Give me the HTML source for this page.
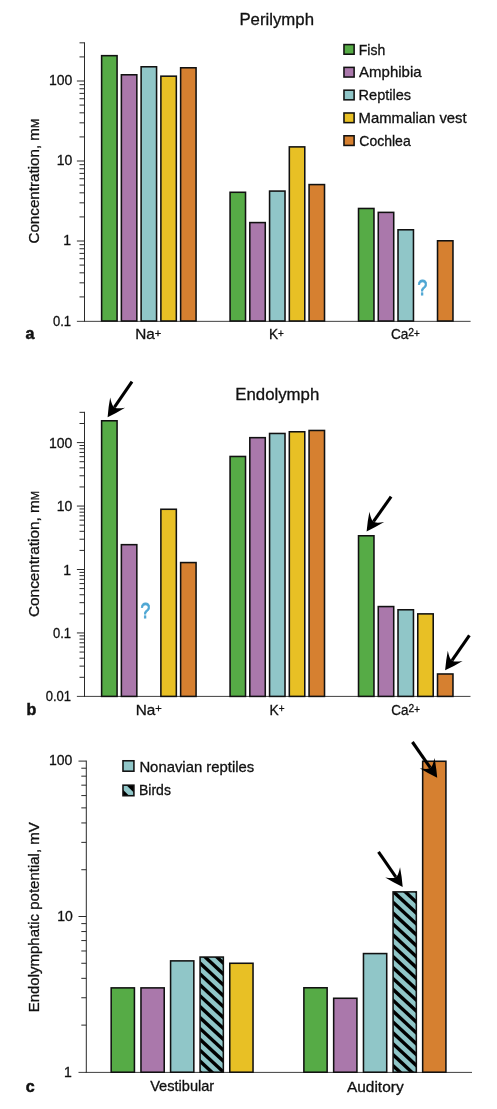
<!DOCTYPE html>
<html><head><meta charset="utf-8"><title>Perilymph and endolymph</title>
<style>
html,body{margin:0;padding:0;background:#fff;}
svg{display:block;font-family:"Liberation Sans",sans-serif;}
</style></head><body>
<svg width="497" height="1109" viewBox="0 0 497 1109">
<rect width="497" height="1109" fill="#fff"/>
<text id="ta" x="276.70" y="24.90" font-size="16.5" text-anchor="middle" font-weight="normal" fill="#111" stroke="#111" stroke-width="0.3" textLength="74.58" lengthAdjust="spacingAndGlyphs">Perilymph</text>
<line x1="84.50" y1="42.33" x2="84.50" y2="321.50" stroke="#2a2a2a" stroke-width="1.0"/>
<line x1="84.00" y1="321.35" x2="470.60" y2="321.35" stroke="#2a2a2a" stroke-width="0.9"/>
<line x1="76.90" y1="321.35" x2="84.50" y2="321.35" stroke="#2a2a2a" stroke-width="0.9"/>
<line x1="79.50" y1="296.92" x2="84.50" y2="296.92" stroke="#2a2a2a" stroke-width="1.0"/>
<line x1="79.50" y1="282.83" x2="84.50" y2="282.83" stroke="#2a2a2a" stroke-width="1.0"/>
<line x1="79.50" y1="272.84" x2="84.50" y2="272.84" stroke="#2a2a2a" stroke-width="1.0"/>
<line x1="79.50" y1="265.08" x2="84.50" y2="265.08" stroke="#2a2a2a" stroke-width="1.0"/>
<line x1="79.50" y1="258.75" x2="84.50" y2="258.75" stroke="#2a2a2a" stroke-width="1.0"/>
<line x1="79.50" y1="253.39" x2="84.50" y2="253.39" stroke="#2a2a2a" stroke-width="1.0"/>
<line x1="79.50" y1="248.75" x2="84.50" y2="248.75" stroke="#2a2a2a" stroke-width="1.0"/>
<line x1="79.50" y1="244.66" x2="84.50" y2="244.66" stroke="#2a2a2a" stroke-width="1.0"/>
<line x1="76.90" y1="241.00" x2="84.50" y2="241.00" stroke="#2a2a2a" stroke-width="1.0"/>
<line x1="79.50" y1="216.92" x2="84.50" y2="216.92" stroke="#2a2a2a" stroke-width="1.0"/>
<line x1="79.50" y1="202.83" x2="84.50" y2="202.83" stroke="#2a2a2a" stroke-width="1.0"/>
<line x1="79.50" y1="192.84" x2="84.50" y2="192.84" stroke="#2a2a2a" stroke-width="1.0"/>
<line x1="79.50" y1="185.08" x2="84.50" y2="185.08" stroke="#2a2a2a" stroke-width="1.0"/>
<line x1="79.50" y1="178.75" x2="84.50" y2="178.75" stroke="#2a2a2a" stroke-width="1.0"/>
<line x1="79.50" y1="173.39" x2="84.50" y2="173.39" stroke="#2a2a2a" stroke-width="1.0"/>
<line x1="79.50" y1="168.75" x2="84.50" y2="168.75" stroke="#2a2a2a" stroke-width="1.0"/>
<line x1="79.50" y1="164.66" x2="84.50" y2="164.66" stroke="#2a2a2a" stroke-width="1.0"/>
<line x1="76.90" y1="161.00" x2="84.50" y2="161.00" stroke="#2a2a2a" stroke-width="1.0"/>
<line x1="79.50" y1="136.92" x2="84.50" y2="136.92" stroke="#2a2a2a" stroke-width="1.0"/>
<line x1="79.50" y1="122.83" x2="84.50" y2="122.83" stroke="#2a2a2a" stroke-width="1.0"/>
<line x1="79.50" y1="112.84" x2="84.50" y2="112.84" stroke="#2a2a2a" stroke-width="1.0"/>
<line x1="79.50" y1="105.08" x2="84.50" y2="105.08" stroke="#2a2a2a" stroke-width="1.0"/>
<line x1="79.50" y1="98.75" x2="84.50" y2="98.75" stroke="#2a2a2a" stroke-width="1.0"/>
<line x1="79.50" y1="93.39" x2="84.50" y2="93.39" stroke="#2a2a2a" stroke-width="1.0"/>
<line x1="79.50" y1="88.75" x2="84.50" y2="88.75" stroke="#2a2a2a" stroke-width="1.0"/>
<line x1="79.50" y1="84.66" x2="84.50" y2="84.66" stroke="#2a2a2a" stroke-width="1.0"/>
<line x1="76.90" y1="81.00" x2="84.50" y2="81.00" stroke="#2a2a2a" stroke-width="1.0"/>
<line x1="79.50" y1="56.92" x2="84.50" y2="56.92" stroke="#2a2a2a" stroke-width="1.0"/>
<line x1="79.50" y1="42.83" x2="84.50" y2="42.83" stroke="#2a2a2a" stroke-width="1.0"/>
<text x="72.40" y="84.70" font-size="14" text-anchor="end" font-weight="normal" fill="#111" stroke="#111" stroke-width="0.3">100</text>
<text x="72.40" y="164.70" font-size="14" text-anchor="end" font-weight="normal" fill="#111" stroke="#111" stroke-width="0.3">10</text>
<text x="71.00" y="245.40" font-size="14" text-anchor="end" font-weight="normal" fill="#111" stroke="#111" stroke-width="0.3">1</text>
<text x="71.00" y="325.50" font-size="14" text-anchor="end" font-weight="normal" fill="#111" stroke="#111" stroke-width="0.3" textLength="18.10" lengthAdjust="spacingAndGlyphs">0.1</text>
<rect x="101.62" y="55.67" width="15.45" height="265.32" fill="#56ab46" stroke="#111" stroke-width="1.55"/>
<rect x="121.38" y="74.78" width="15.45" height="246.22" fill="#aa78ab" stroke="#111" stroke-width="1.55"/>
<rect x="141.12" y="66.78" width="15.45" height="254.22" fill="#90c6c8" stroke="#111" stroke-width="1.55"/>
<rect x="160.88" y="76.18" width="15.45" height="244.82" fill="#e8c025" stroke="#111" stroke-width="1.55"/>
<rect x="180.62" y="67.78" width="15.45" height="253.22" fill="#d68030" stroke="#111" stroke-width="1.55"/>
<rect x="230.07" y="192.28" width="15.45" height="128.72" fill="#56ab46" stroke="#111" stroke-width="1.55"/>
<rect x="249.82" y="222.58" width="15.45" height="98.42" fill="#aa78ab" stroke="#111" stroke-width="1.55"/>
<rect x="269.57" y="191.08" width="15.45" height="129.92" fill="#90c6c8" stroke="#111" stroke-width="1.55"/>
<rect x="289.32" y="146.88" width="15.45" height="174.12" fill="#e8c025" stroke="#111" stroke-width="1.55"/>
<rect x="309.07" y="184.58" width="15.45" height="136.42" fill="#d68030" stroke="#111" stroke-width="1.55"/>
<rect x="358.52" y="208.47" width="15.45" height="112.53" fill="#56ab46" stroke="#111" stroke-width="1.55"/>
<rect x="378.27" y="212.38" width="15.45" height="108.62" fill="#aa78ab" stroke="#111" stroke-width="1.55"/>
<rect x="398.02" y="229.78" width="15.45" height="91.22" fill="#90c6c8" stroke="#111" stroke-width="1.55"/>
<rect x="437.52" y="240.78" width="15.45" height="80.22" fill="#d68030" stroke="#111" stroke-width="1.55"/>
<text x="422.40" y="295.40" font-size="22.5" text-anchor="middle" font-weight="normal" fill="#4da6d3" stroke="#4da6d3" stroke-width="0.8" textLength="9.8" lengthAdjust="spacingAndGlyphs">?</text>
<rect x="343.97" y="44.57" width="10.15" height="9.65" fill="#56ab46" stroke="#111" stroke-width="1.55"/>
<text id="lg0" x="358.80" y="54.60" font-size="14.5" text-anchor="start" font-weight="normal" fill="#111" stroke="#111" stroke-width="0.3" textLength="26.45" lengthAdjust="spacingAndGlyphs">Fish</text>
<rect x="343.97" y="67.38" width="10.15" height="9.65" fill="#aa78ab" stroke="#111" stroke-width="1.55"/>
<text id="lg1" x="359.10" y="77.35" font-size="14.5" text-anchor="start" font-weight="normal" fill="#111" stroke="#111" stroke-width="0.3" textLength="62.45" lengthAdjust="spacingAndGlyphs">Amphibia</text>
<rect x="343.97" y="90.18" width="10.15" height="9.65" fill="#90c6c8" stroke="#111" stroke-width="1.55"/>
<text id="lg2" x="358.60" y="100.10" font-size="14.5" text-anchor="start" font-weight="normal" fill="#111" stroke="#111" stroke-width="0.3" textLength="52.43" lengthAdjust="spacingAndGlyphs">Reptiles</text>
<rect x="343.97" y="112.98" width="10.15" height="9.65" fill="#e8c025" stroke="#111" stroke-width="1.55"/>
<text id="lg3" x="358.60" y="122.85" font-size="14.5" text-anchor="start" font-weight="normal" fill="#111" stroke="#111" stroke-width="0.3" textLength="108.03" lengthAdjust="spacingAndGlyphs">Mammalian vest</text>
<rect x="343.97" y="135.78" width="10.15" height="9.65" fill="#d68030" stroke="#111" stroke-width="1.55"/>
<text id="lg4" x="359.30" y="145.60" font-size="14.5" text-anchor="start" font-weight="normal" fill="#111" stroke="#111" stroke-width="0.3" textLength="51.38" lengthAdjust="spacingAndGlyphs">Cochlea</text>
<text id="na_a" x="148.20" y="339.20" font-size="14.5" text-anchor="middle" font-weight="normal" fill="#111" stroke="#111" stroke-width="0.3" textLength="26.06" lengthAdjust="spacingAndGlyphs">Na<tspan font-size="10.5" dy="-2.6">+</tspan></text>
<text id="k_a" x="276.40" y="339.20" font-size="14.5" text-anchor="middle" font-weight="normal" fill="#111" stroke="#111" stroke-width="0.3" textLength="14.91" lengthAdjust="spacingAndGlyphs">K<tspan font-size="10.5" dy="-2.6">+</tspan></text>
<text id="ca_a" x="405.40" y="339.20" font-size="14.5" text-anchor="middle" font-weight="normal" fill="#111" stroke="#111" stroke-width="0.3" textLength="29.00" lengthAdjust="spacingAndGlyphs">Ca<tspan font-size="11" dy="-3.1">2</tspan><tspan font-size="10.5" dy="0.8">+</tspan></text>
<text x="25.60" y="339.20" font-size="16" text-anchor="start" font-weight="bold" fill="#111" stroke="#111" stroke-width="0.5">a</text>
<text id="yla" transform="translate(38.7,181.20) rotate(-90)" font-size="14.5" text-anchor="middle" fill="#111" stroke="#111" stroke-width="0.3" textLength="124.70" lengthAdjust="spacingAndGlyphs">Concentration, m<tspan font-size="10.5">M</tspan></text>
<text id="tb" x="277.30" y="399.90" font-size="16.5" text-anchor="middle" font-weight="normal" fill="#111" stroke="#111" stroke-width="0.3" textLength="83.99" lengthAdjust="spacingAndGlyphs">Endolymph</text>
<line x1="84.50" y1="411.83" x2="84.50" y2="696.90" stroke="#2a2a2a" stroke-width="1.0"/>
<line x1="84.00" y1="696.40" x2="470.50" y2="696.40" stroke="#2a2a2a" stroke-width="0.9"/>
<line x1="76.90" y1="696.40" x2="84.50" y2="696.40" stroke="#2a2a2a" stroke-width="0.9"/>
<line x1="79.50" y1="677.30" x2="84.50" y2="677.30" stroke="#2a2a2a" stroke-width="1.0"/>
<line x1="79.50" y1="666.13" x2="84.50" y2="666.13" stroke="#2a2a2a" stroke-width="1.0"/>
<line x1="79.50" y1="658.20" x2="84.50" y2="658.20" stroke="#2a2a2a" stroke-width="1.0"/>
<line x1="79.50" y1="652.05" x2="84.50" y2="652.05" stroke="#2a2a2a" stroke-width="1.0"/>
<line x1="79.50" y1="647.03" x2="84.50" y2="647.03" stroke="#2a2a2a" stroke-width="1.0"/>
<line x1="79.50" y1="642.78" x2="84.50" y2="642.78" stroke="#2a2a2a" stroke-width="1.0"/>
<line x1="79.50" y1="639.10" x2="84.50" y2="639.10" stroke="#2a2a2a" stroke-width="1.0"/>
<line x1="79.50" y1="635.85" x2="84.50" y2="635.85" stroke="#2a2a2a" stroke-width="1.0"/>
<line x1="76.90" y1="632.95" x2="84.50" y2="632.95" stroke="#2a2a2a" stroke-width="1.0"/>
<line x1="79.50" y1="613.85" x2="84.50" y2="613.85" stroke="#2a2a2a" stroke-width="1.0"/>
<line x1="79.50" y1="602.68" x2="84.50" y2="602.68" stroke="#2a2a2a" stroke-width="1.0"/>
<line x1="79.50" y1="594.75" x2="84.50" y2="594.75" stroke="#2a2a2a" stroke-width="1.0"/>
<line x1="79.50" y1="588.60" x2="84.50" y2="588.60" stroke="#2a2a2a" stroke-width="1.0"/>
<line x1="79.50" y1="583.58" x2="84.50" y2="583.58" stroke="#2a2a2a" stroke-width="1.0"/>
<line x1="79.50" y1="579.33" x2="84.50" y2="579.33" stroke="#2a2a2a" stroke-width="1.0"/>
<line x1="79.50" y1="575.65" x2="84.50" y2="575.65" stroke="#2a2a2a" stroke-width="1.0"/>
<line x1="79.50" y1="572.40" x2="84.50" y2="572.40" stroke="#2a2a2a" stroke-width="1.0"/>
<line x1="76.90" y1="569.50" x2="84.50" y2="569.50" stroke="#2a2a2a" stroke-width="1.0"/>
<line x1="79.50" y1="550.40" x2="84.50" y2="550.40" stroke="#2a2a2a" stroke-width="1.0"/>
<line x1="79.50" y1="539.23" x2="84.50" y2="539.23" stroke="#2a2a2a" stroke-width="1.0"/>
<line x1="79.50" y1="531.30" x2="84.50" y2="531.30" stroke="#2a2a2a" stroke-width="1.0"/>
<line x1="79.50" y1="525.15" x2="84.50" y2="525.15" stroke="#2a2a2a" stroke-width="1.0"/>
<line x1="79.50" y1="520.13" x2="84.50" y2="520.13" stroke="#2a2a2a" stroke-width="1.0"/>
<line x1="79.50" y1="515.88" x2="84.50" y2="515.88" stroke="#2a2a2a" stroke-width="1.0"/>
<line x1="79.50" y1="512.20" x2="84.50" y2="512.20" stroke="#2a2a2a" stroke-width="1.0"/>
<line x1="79.50" y1="508.95" x2="84.50" y2="508.95" stroke="#2a2a2a" stroke-width="1.0"/>
<line x1="76.90" y1="506.05" x2="84.50" y2="506.05" stroke="#2a2a2a" stroke-width="1.0"/>
<line x1="79.50" y1="486.95" x2="84.50" y2="486.95" stroke="#2a2a2a" stroke-width="1.0"/>
<line x1="79.50" y1="475.78" x2="84.50" y2="475.78" stroke="#2a2a2a" stroke-width="1.0"/>
<line x1="79.50" y1="467.85" x2="84.50" y2="467.85" stroke="#2a2a2a" stroke-width="1.0"/>
<line x1="79.50" y1="461.70" x2="84.50" y2="461.70" stroke="#2a2a2a" stroke-width="1.0"/>
<line x1="79.50" y1="456.68" x2="84.50" y2="456.68" stroke="#2a2a2a" stroke-width="1.0"/>
<line x1="79.50" y1="452.43" x2="84.50" y2="452.43" stroke="#2a2a2a" stroke-width="1.0"/>
<line x1="79.50" y1="448.75" x2="84.50" y2="448.75" stroke="#2a2a2a" stroke-width="1.0"/>
<line x1="79.50" y1="445.50" x2="84.50" y2="445.50" stroke="#2a2a2a" stroke-width="1.0"/>
<line x1="76.90" y1="442.60" x2="84.50" y2="442.60" stroke="#2a2a2a" stroke-width="1.0"/>
<line x1="79.50" y1="423.50" x2="84.50" y2="423.50" stroke="#2a2a2a" stroke-width="1.0"/>
<line x1="79.50" y1="412.33" x2="84.50" y2="412.33" stroke="#2a2a2a" stroke-width="1.0"/>
<text x="72.40" y="447.60" font-size="14" text-anchor="end" font-weight="normal" fill="#111" stroke="#111" stroke-width="0.3">100</text>
<text x="72.40" y="511.05" font-size="14" text-anchor="end" font-weight="normal" fill="#111" stroke="#111" stroke-width="0.3">10</text>
<text x="71.00" y="574.50" font-size="14" text-anchor="end" font-weight="normal" fill="#111" stroke="#111" stroke-width="0.3">1</text>
<text x="71.00" y="637.95" font-size="14" text-anchor="end" font-weight="normal" fill="#111" stroke="#111" stroke-width="0.3" textLength="18.10" lengthAdjust="spacingAndGlyphs">0.1</text>
<text x="71.00" y="701.40" font-size="14" text-anchor="end" font-weight="normal" fill="#111" stroke="#111" stroke-width="0.3" textLength="25.34" lengthAdjust="spacingAndGlyphs">0.01</text>
<rect x="101.62" y="420.77" width="15.45" height="275.62" fill="#56ab46" stroke="#111" stroke-width="1.55"/>
<rect x="121.38" y="544.67" width="15.45" height="151.73" fill="#aa78ab" stroke="#111" stroke-width="1.55"/>
<rect x="160.88" y="509.27" width="15.45" height="187.12" fill="#e8c025" stroke="#111" stroke-width="1.55"/>
<rect x="180.62" y="562.57" width="15.45" height="133.83" fill="#d68030" stroke="#111" stroke-width="1.55"/>
<rect x="230.07" y="456.47" width="15.45" height="239.93" fill="#56ab46" stroke="#111" stroke-width="1.55"/>
<rect x="249.82" y="437.67" width="15.45" height="258.73" fill="#aa78ab" stroke="#111" stroke-width="1.55"/>
<rect x="269.57" y="433.47" width="15.45" height="262.93" fill="#90c6c8" stroke="#111" stroke-width="1.55"/>
<rect x="289.32" y="431.77" width="15.45" height="264.62" fill="#e8c025" stroke="#111" stroke-width="1.55"/>
<rect x="309.07" y="430.47" width="15.45" height="265.93" fill="#d68030" stroke="#111" stroke-width="1.55"/>
<rect x="358.52" y="535.77" width="15.45" height="160.62" fill="#56ab46" stroke="#111" stroke-width="1.55"/>
<rect x="378.27" y="606.57" width="15.45" height="89.83" fill="#aa78ab" stroke="#111" stroke-width="1.55"/>
<rect x="398.02" y="609.77" width="15.45" height="86.62" fill="#90c6c8" stroke="#111" stroke-width="1.55"/>
<rect x="417.77" y="613.88" width="15.45" height="82.52" fill="#e8c025" stroke="#111" stroke-width="1.55"/>
<rect x="437.52" y="673.98" width="15.45" height="22.42" fill="#d68030" stroke="#111" stroke-width="1.55"/>
<text x="145.30" y="618.40" font-size="22.5" text-anchor="middle" font-weight="normal" fill="#4da6d3" stroke="#4da6d3" stroke-width="0.8" textLength="9.8" lengthAdjust="spacingAndGlyphs">?</text>
<text id="na_b" x="148.80" y="714.90" font-size="14.5" text-anchor="middle" font-weight="normal" fill="#111" stroke="#111" stroke-width="0.3" textLength="26.08" lengthAdjust="spacingAndGlyphs">Na<tspan font-size="10.5" dy="-2.6">+</tspan></text>
<text id="k_b" x="277.10" y="714.90" font-size="14.5" text-anchor="middle" font-weight="normal" fill="#111" stroke="#111" stroke-width="0.3" textLength="15.07" lengthAdjust="spacingAndGlyphs">K<tspan font-size="10.5" dy="-2.6">+</tspan></text>
<text id="ca_b" x="405.60" y="714.90" font-size="14.5" text-anchor="middle" font-weight="normal" fill="#111" stroke="#111" stroke-width="0.3" textLength="28.59" lengthAdjust="spacingAndGlyphs">Ca<tspan font-size="11" dy="-3.1">2</tspan><tspan font-size="10.5" dy="0.8">+</tspan></text>
<text x="26.40" y="715.10" font-size="16" text-anchor="start" font-weight="bold" fill="#111" stroke="#111" stroke-width="0.5">b</text>
<text id="ylb" transform="translate(38.7,554.00) rotate(-90)" font-size="14.5" text-anchor="middle" fill="#111" stroke="#111" stroke-width="0.3" textLength="125.99" lengthAdjust="spacingAndGlyphs">Concentration, m<tspan font-size="10.5">M</tspan></text>
<path d="M107.60,417.20 Q116.83,412.80 125.03,407.69 Q118.25,408.74 115.78,408.01 L113.22,406.26 Q111.65,404.22 110.18,397.51 Q108.37,407.00 107.60,417.20Z" fill="#000"/>
<line x1="114.50" y1="407.14" x2="132.00" y2="381.60" stroke="#000" stroke-width="3.1"/>
<path d="M366.60,531.40 Q375.89,527.12 384.15,522.11 Q377.35,523.07 374.89,522.32 L372.36,520.53 Q370.81,518.47 369.43,511.75 Q367.50,521.21 366.60,531.40Z" fill="#000"/>
<line x1="373.62" y1="521.42" x2="391.10" y2="496.60" stroke="#000" stroke-width="3.1"/>
<path d="M445.10,670.30 Q454.36,665.96 462.59,660.89 Q455.80,661.90 453.33,661.16 L450.78,659.39 Q449.23,657.34 447.80,650.63 Q445.93,660.10 445.10,670.30Z" fill="#000"/>
<line x1="452.06" y1="660.28" x2="469.40" y2="635.30" stroke="#000" stroke-width="3.1"/>
<line x1="86.30" y1="760.60" x2="86.30" y2="1072.70" stroke="#2a2a2a" stroke-width="1.0"/>
<line x1="85.80" y1="1072.40" x2="472.00" y2="1072.40" stroke="#2a2a2a" stroke-width="0.9"/>
<line x1="78.50" y1="1072.40" x2="86.30" y2="1072.40" stroke="#2a2a2a" stroke-width="0.9"/>
<line x1="81.30" y1="1025.12" x2="86.30" y2="1025.12" stroke="#2a2a2a" stroke-width="1.0"/>
<line x1="81.30" y1="997.76" x2="86.30" y2="997.76" stroke="#2a2a2a" stroke-width="1.0"/>
<line x1="81.30" y1="978.34" x2="86.30" y2="978.34" stroke="#2a2a2a" stroke-width="1.0"/>
<line x1="81.30" y1="963.28" x2="86.30" y2="963.28" stroke="#2a2a2a" stroke-width="1.0"/>
<line x1="81.30" y1="950.98" x2="86.30" y2="950.98" stroke="#2a2a2a" stroke-width="1.0"/>
<line x1="81.30" y1="940.57" x2="86.30" y2="940.57" stroke="#2a2a2a" stroke-width="1.0"/>
<line x1="81.30" y1="931.56" x2="86.30" y2="931.56" stroke="#2a2a2a" stroke-width="1.0"/>
<line x1="81.30" y1="923.61" x2="86.30" y2="923.61" stroke="#2a2a2a" stroke-width="1.0"/>
<line x1="78.50" y1="916.50" x2="86.30" y2="916.50" stroke="#2a2a2a" stroke-width="1.0"/>
<line x1="81.30" y1="869.72" x2="86.30" y2="869.72" stroke="#2a2a2a" stroke-width="1.0"/>
<line x1="81.30" y1="842.36" x2="86.30" y2="842.36" stroke="#2a2a2a" stroke-width="1.0"/>
<line x1="81.30" y1="822.94" x2="86.30" y2="822.94" stroke="#2a2a2a" stroke-width="1.0"/>
<line x1="81.30" y1="807.88" x2="86.30" y2="807.88" stroke="#2a2a2a" stroke-width="1.0"/>
<line x1="81.30" y1="795.58" x2="86.30" y2="795.58" stroke="#2a2a2a" stroke-width="1.0"/>
<line x1="81.30" y1="785.17" x2="86.30" y2="785.17" stroke="#2a2a2a" stroke-width="1.0"/>
<line x1="81.30" y1="776.16" x2="86.30" y2="776.16" stroke="#2a2a2a" stroke-width="1.0"/>
<line x1="81.30" y1="768.21" x2="86.30" y2="768.21" stroke="#2a2a2a" stroke-width="1.0"/>
<line x1="78.50" y1="761.10" x2="86.30" y2="761.10" stroke="#2a2a2a" stroke-width="1.0"/>
<text x="72.40" y="764.60" font-size="14" text-anchor="end" font-weight="normal" fill="#111" stroke="#111" stroke-width="0.3">100</text>
<text x="72.80" y="920.60" font-size="14" text-anchor="end" font-weight="normal" fill="#111" stroke="#111" stroke-width="0.3">10</text>
<text x="71.70" y="1076.90" font-size="14" text-anchor="end" font-weight="normal" fill="#111" stroke="#111" stroke-width="0.3">1</text>
<rect x="111.18" y="987.88" width="23.25" height="84.33" fill="#56ab46" stroke="#111" stroke-width="1.55"/>
<rect x="140.97" y="987.88" width="23.25" height="84.33" fill="#aa78ab" stroke="#111" stroke-width="1.55"/>
<rect x="170.58" y="960.88" width="23.25" height="111.33" fill="#90c6c8" stroke="#111" stroke-width="1.55"/>
<clipPath id="h3"><rect x="200.08" y="957.07" width="23.25" height="115.13"/></clipPath>
<rect x="200.08" y="957.07" width="23.25" height="115.13" fill="#90c6c8"/>
<g clip-path="url(#h3)" stroke="#000" stroke-width="3.4">
<line x1="194.30" y1="903.38" x2="229.10" y2="935.74"/>
<line x1="194.30" y1="914.27" x2="229.10" y2="946.63"/>
<line x1="194.30" y1="925.16" x2="229.10" y2="957.52"/>
<line x1="194.30" y1="936.05" x2="229.10" y2="968.41"/>
<line x1="194.30" y1="946.94" x2="229.10" y2="979.30"/>
<line x1="194.30" y1="957.83" x2="229.10" y2="990.19"/>
<line x1="194.30" y1="968.72" x2="229.10" y2="1001.08"/>
<line x1="194.30" y1="979.61" x2="229.10" y2="1011.97"/>
<line x1="194.30" y1="990.50" x2="229.10" y2="1022.86"/>
<line x1="194.30" y1="1001.39" x2="229.10" y2="1033.75"/>
<line x1="194.30" y1="1012.28" x2="229.10" y2="1044.64"/>
<line x1="194.30" y1="1023.17" x2="229.10" y2="1055.53"/>
<line x1="194.30" y1="1034.06" x2="229.10" y2="1066.42"/>
<line x1="194.30" y1="1044.95" x2="229.10" y2="1077.31"/>
<line x1="194.30" y1="1055.84" x2="229.10" y2="1088.20"/>
<line x1="194.30" y1="1066.73" x2="229.10" y2="1099.09"/>
</g>
<rect x="200.08" y="957.07" width="23.25" height="115.13" fill="none" stroke="#111" stroke-width="1.55"/>
<rect x="229.78" y="963.27" width="23.25" height="108.93" fill="#e8c025" stroke="#111" stroke-width="1.55"/>
<rect x="303.88" y="987.77" width="23.25" height="84.43" fill="#56ab46" stroke="#111" stroke-width="1.55"/>
<rect x="333.67" y="998.27" width="23.25" height="73.93" fill="#aa78ab" stroke="#111" stroke-width="1.55"/>
<rect x="363.47" y="953.57" width="23.25" height="118.63" fill="#90c6c8" stroke="#111" stroke-width="1.55"/>
<clipPath id="h8"><rect x="393.07" y="891.88" width="23.25" height="180.33"/></clipPath>
<rect x="393.07" y="891.88" width="23.25" height="180.33" fill="#90c6c8"/>
<g clip-path="url(#h8)" stroke="#000" stroke-width="3.4">
<line x1="387.30" y1="842.48" x2="422.10" y2="874.84"/>
<line x1="387.30" y1="853.37" x2="422.10" y2="885.73"/>
<line x1="387.30" y1="864.26" x2="422.10" y2="896.62"/>
<line x1="387.30" y1="875.15" x2="422.10" y2="907.51"/>
<line x1="387.30" y1="886.04" x2="422.10" y2="918.40"/>
<line x1="387.30" y1="896.93" x2="422.10" y2="929.29"/>
<line x1="387.30" y1="907.82" x2="422.10" y2="940.18"/>
<line x1="387.30" y1="918.71" x2="422.10" y2="951.07"/>
<line x1="387.30" y1="929.60" x2="422.10" y2="961.96"/>
<line x1="387.30" y1="940.49" x2="422.10" y2="972.85"/>
<line x1="387.30" y1="951.38" x2="422.10" y2="983.74"/>
<line x1="387.30" y1="962.27" x2="422.10" y2="994.63"/>
<line x1="387.30" y1="973.16" x2="422.10" y2="1005.52"/>
<line x1="387.30" y1="984.05" x2="422.10" y2="1016.41"/>
<line x1="387.30" y1="994.94" x2="422.10" y2="1027.30"/>
<line x1="387.30" y1="1005.83" x2="422.10" y2="1038.19"/>
<line x1="387.30" y1="1016.72" x2="422.10" y2="1049.08"/>
<line x1="387.30" y1="1027.61" x2="422.10" y2="1059.97"/>
<line x1="387.30" y1="1038.50" x2="422.10" y2="1070.86"/>
<line x1="387.30" y1="1049.39" x2="422.10" y2="1081.75"/>
<line x1="387.30" y1="1060.28" x2="422.10" y2="1092.64"/>
<line x1="387.30" y1="1071.17" x2="422.10" y2="1103.53"/>
</g>
<rect x="393.07" y="891.88" width="23.25" height="180.33" fill="none" stroke="#111" stroke-width="1.55"/>
<rect x="422.67" y="761.27" width="23.25" height="310.93" fill="#d68030" stroke="#111" stroke-width="1.55"/>
<text id="vest" x="182.20" y="1091.40" font-size="14.5" text-anchor="middle" font-weight="normal" fill="#111" stroke="#111" stroke-width="0.3" textLength="64.10" lengthAdjust="spacingAndGlyphs">Vestibular</text>
<text id="aud" x="375.30" y="1091.60" font-size="14.5" text-anchor="middle" font-weight="normal" fill="#111" stroke="#111" stroke-width="0.3" textLength="56.60" lengthAdjust="spacingAndGlyphs">Auditory</text>
<text x="25.80" y="1092.00" font-size="16" text-anchor="start" font-weight="bold" fill="#111" stroke="#111" stroke-width="0.5">c</text>
<text id="ylc" transform="translate(39.0,917.30) rotate(-90)" font-size="14.5" text-anchor="middle" fill="#111" stroke="#111" stroke-width="0.3" textLength="190.08" lengthAdjust="spacingAndGlyphs">Endolymphatic potential, mV</text>
<rect x="122.98" y="760.77" width="10.95" height="10.43" fill="#90c6c8" stroke="#111" stroke-width="1.55"/>
<text id="nonav" x="139.40" y="771.60" font-size="14.5" text-anchor="start" font-weight="normal" fill="#111" stroke="#111" stroke-width="0.3" textLength="114.84" lengthAdjust="spacingAndGlyphs">Nonavian reptiles</text>
<clipPath id="lg"><rect x="122.98" y="785.17" width="10.95" height="10.55"/></clipPath>
<rect x="122.98" y="785.17" width="10.95" height="10.55" fill="#000"/>
<g clip-path="url(#lg)"><line x1="119.98" y1="782.67" x2="136.93" y2="799.62" stroke="#90c6c8" stroke-width="5.6"/></g>
<rect x="122.98" y="785.17" width="10.95" height="10.55" fill="none" stroke="#111" stroke-width="1.55"/>
<text id="birds" x="139.00" y="795.20" font-size="14.5" text-anchor="start" font-weight="normal" fill="#111" stroke="#111" stroke-width="0.3" textLength="31.91" lengthAdjust="spacingAndGlyphs">Birds</text>
<path d="M437.20,777.70 Q436.36,767.50 434.49,758.03 Q433.07,764.74 431.51,766.80 L428.97,768.56 Q426.50,769.31 419.71,768.30 Q427.94,773.36 437.20,777.70Z" fill="#000"/>
<line x1="430.24" y1="767.68" x2="412.40" y2="742.00" stroke="#000" stroke-width="3.1"/>
<path d="M402.70,886.90 Q401.89,876.70 400.04,867.22 Q398.60,873.93 397.04,875.98 L394.49,877.75 Q392.02,878.48 385.23,877.46 Q393.45,882.54 402.70,886.90Z" fill="#000"/>
<line x1="395.76" y1="876.87" x2="378.50" y2="851.90" stroke="#000" stroke-width="3.1"/>
</svg>
</body></html>
